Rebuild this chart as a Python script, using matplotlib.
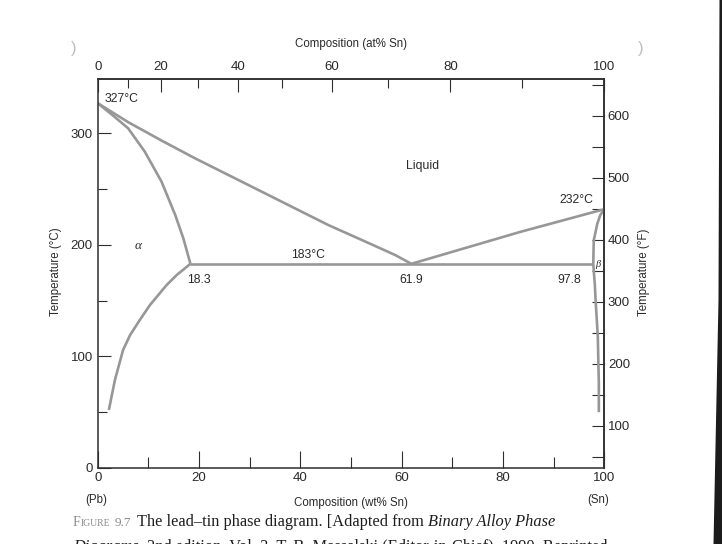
import numpy as np
import matplotlib
matplotlib.use("Agg")
import matplotlib.pyplot as plt
from matplotlib.patches import Polygon

# ---------------- data (wt% Sn, temperature in °C) ----------------
liquidus_left_wt = [0, 3.0, 6.0, 12.6, 19.2, 25.8, 32.4, 38.9, 45.5, 52.1, 58.7, 61.9]
liquidus_left_T = [327, 318.5, 310.0, 293.5, 277.6, 262.6, 247.6, 232.8, 217.8, 204.4, 190.9, 183]

liquidus_right_wt = [61.9, 83.3, 100]
liquidus_right_T = [183, 211.5, 232]

solidus_alpha_wt = [0, 3.0, 6.0, 9.3, 12.6, 15.3, 16.9, 18.3]
solidus_alpha_T = [327, 316, 304.5, 283.5, 256.6, 226.8, 205.9, 183]

solvus_alpha_wt = [18.3, 15.6, 13.6, 10.3, 8.3, 6.4, 5.0, 3.4, 2.2]
solvus_alpha_T = [183, 173, 164, 146, 132.6, 119.2, 105.7, 78.9, 52]

solidus_beta_wt = [100, 99.2, 98.6, 97.9, 97.8]
solidus_beta_T = [232, 226.8, 219, 204, 183]

solvus_beta_wt = [97.8, 98.1, 98.3, 98.7, 98.9, 98.9]
solvus_beta_T = [183, 165, 147.6, 117.6, 75.9, 50]

eutectic_wt = [18.3, 97.8]
eutectic_T = [183, 183]

wt_major = [0, 20, 40, 60, 80, 100]
wt_minor = [10, 30, 50, 70, 90]
at_major = [0, 20, 40, 60, 80, 100]
at_minor = [10, 30, 50, 70, 90]
C_major = [0, 100, 200, 300]
C_minor = [50, 150, 250]
F_major = [100, 200, 300, 400, 500, 600]
F_minor = [50, 150, 250, 350, 450, 550, 650]

M_SN, M_PB = 118.71, 207.2


def at2wt(a):
    a = np.asarray(a, dtype=float)
    with np.errstate(all="ignore"):
        return 100.0 * a * M_SN / (a * M_SN + (100.0 - a) * M_PB)


def wt2at(w):
    w = np.asarray(w, dtype=float)
    with np.errstate(all="ignore"):
        return 100.0 * (w / M_SN) / (w / M_SN + (100.0 - w) / M_PB)


def c2f(c):
    return np.asarray(c, dtype=float) * 9.0 / 5.0 + 32.0


def f2c(f):
    return (np.asarray(f, dtype=float) - 32.0) * 5.0 / 9.0


# ---------------- figure ----------------
W, H = 722, 544
fig = plt.figure(figsize=(W / 100, H / 100), dpi=100)
fig.patch.set_facecolor("white")
SANS = ["Liberation Sans", "DejaVu Sans"]
SERIF = ["Liberation Serif", "DejaVu Serif"]
TXT = "#2a2a2a"
AX = "#2e2e2e"
LINE = "#979797"


def fx(x):
    return x / W


def fy(y):
    return 1 - y / H


L, R, T, B = 97.7, 604.4, 79, 468
ax = fig.add_axes([fx(L), fy(B), (R - L) / W, (B - T) / H])
ax.set_xlim(0, 100)
ax.set_ylim(0, (B - T) / 1.1157)

for s in ax.spines.values():
    s.set_color(AX)
    s.set_linewidth(1.1)

lkw = dict(color=LINE, lw=1.9, solid_capstyle="butt", solid_joinstyle="round")
ax.plot(liquidus_left_wt, liquidus_left_T, **lkw)
ax.plot(liquidus_right_wt, liquidus_right_T, **lkw)
ax.plot(solidus_alpha_wt, solidus_alpha_T, **lkw)
ax.plot(solvus_alpha_wt, solvus_alpha_T, **lkw)
ax.plot(solidus_beta_wt, solidus_beta_T, **lkw)
ax.plot(solvus_beta_wt, solvus_beta_T, **lkw)
ax.plot(eutectic_wt, eutectic_T, **lkw)

TS = 9.5
# bottom / left ticks
ax.set_xticks(wt_major)
ax.set_xticks(wt_minor, minor=True)
ax.set_yticks(C_major)
ax.set_yticks(C_minor, minor=True)
ax.tick_params(axis="x", which="major", direction="in", length=12, width=0.8,
               color=AX, labelsize=TS, labelcolor=TXT, pad=3.0, top=False)
ax.tick_params(axis="x", which="minor", direction="in", length=8, width=0.8,
               color=AX, top=False)
ax.tick_params(axis="y", which="major", direction="in", length=9.4, width=0.8,
               color=AX, labelsize=TS, labelcolor=TXT, pad=3.5, right=False)
ax.tick_params(axis="y", which="minor", direction="in", length=6.5, width=0.8,
               color=AX, right=False)
for lab in ax.get_xticklabels() + ax.get_yticklabels():
    lab.set_family(SANS)

# top axis: at% Sn
secx = ax.secondary_xaxis("top", functions=(wt2at, at2wt))
secx.set_xticks(at_major)
secx.set_xticks(at_minor, minor=True)
secx.tick_params(which="major", direction="in", length=9.4, width=0.8, color=AX,
                 labelsize=TS, labelcolor=TXT, pad=4.5)
secx.tick_params(which="minor", direction="in", length=6.5, width=0.8, color=AX)
secx.spines["top"].set_color(AX)
secx.spines["top"].set_linewidth(1.1)
for lab in secx.get_xticklabels():
    lab.set_family(SANS)

# right axis: °F
secy = ax.secondary_yaxis("right", functions=(c2f, f2c))
secy.set_yticks(F_major)
secy.set_yticks(F_minor, minor=True)
secy.tick_params(which="major", direction="in", length=8.6, width=0.8, color=AX,
                 labelsize=TS, labelcolor=TXT, pad=2.5)
secy.tick_params(which="minor", direction="in", length=8.6, width=0.8, color=AX)
secy.spines["right"].set_color(AX)
secy.spines["right"].set_linewidth(1.1)
for lab in secy.get_yticklabels():
    lab.set_family(SANS)

# annotations in data coordinates
akw = dict(family=SANS, fontsize=8.8, color=TXT)
ax.text(1.4, 331, "327°C", ha="left", va="center", **akw)
ax.text(17.6, 168.5, "18.3", ha="left", va="center", **akw)
ax.text(41.5, 190.9, "183°C", ha="center", va="center", **akw)
ax.text(61.9, 168.5, "61.9", ha="center", va="center", **akw)
ax.text(64.1, 270.5, "Liquid", ha="center", va="center", **akw)
ax.text(94.4, 240.2, "232°C", ha="center", va="center", **akw)
ax.text(93.1, 168.5, "97.8", ha="center", va="center", **akw)
ax.text(8.0, 199.4, "α", ha="center", va="center", family=SERIF, style="italic",
        fontsize=9.5, color=TXT)
ax.text(98.7, 182, "β", ha="center", va="center", family=SERIF, style="italic",
        fontsize=7.5, color=TXT)

# axis labels and element labels (figure pixel positions)
tkw = dict(family=SANS, fontsize=8.3, color=TXT)
fig.text(fx(56), fy(272), "Temperature (°C)", rotation=90, ha="center", va="center", **tkw)
fig.text(fx(644), fy(272), "Temperature (°F)", rotation=90, ha="center", va="center", **tkw)
fig.text(fx(351), fy(503), "Composition (wt% Sn)", ha="center", va="center", **tkw)
fig.text(fx(351), fy(44), "Composition (at% Sn)", ha="center", va="center", **tkw)
fig.text(fx(96), fy(500), "(Pb)", ha="center", va="center", **tkw)
fig.text(fx(598), fy(500), "(Sn)", ha="center", va="center", **tkw)

# scan artefacts (binding marks)
fig.text(fx(74), fy(48), ")", ha="center", va="center", family=SANS, fontsize=12, color="#bdbdbd")
fig.text(fx(641), fy(48), ")", ha="center", va="center", family=SANS, fontsize=12, color="#bdbdbd")

# caption drawn piece by piece
renderer = fig.canvas.get_renderer()


def draw_seq(x0, y, pieces):
    x = x0
    for txt, kw, gap in pieces:
        t = fig.text(fx(x), fy(y), txt, ha="left", va="baseline", **kw)
        bb = t.get_window_extent(renderer=renderer)
        x += bb.width + gap
    return x


CS = 11.8
gray = dict(family=SERIF, color="#8c8c8c")
norm = dict(family=SERIF, color="#1e1e1e", fontsize=CS)
ital = dict(family=SERIF, color="#1e1e1e", fontsize=CS, style="italic")
sp = CS * 0.25 * 100 / 72

draw_seq(73, 526, [
    ("F", dict(fontsize=10.0, **gray), 0.3),
    ("IGURE", dict(fontsize=7.0, **gray), 4),
    ("9.7", dict(fontsize=9.5, **gray), 0),
])
draw_seq(137, 526, [
    ("The lead–tin phase diagram. [Adapted from", norm, sp),
    ("Binary Alloy Phase", ital, 0),
])
draw_seq(73, 551, [
    ("Diagrams,", ital, sp),
    ("2nd edition, Vol. 3, T. B. Massalski (Editor-in-Chief), 1990. Reprinted", norm, 0),
])

# dark scanner edge on the right
fig.patches.append(Polygon([(fx(719.5), 1.0), (1.0, 1.0), (1.0, 0.0), (fx(713.5), 0.0),
                            (fx(718.5), fy(300))],
                           closed=True, transform=fig.transFigure, facecolor="#1c1c1c",
                           edgecolor="none", figure=fig))

fig.savefig("out.png", dpi=100, facecolor="white")
